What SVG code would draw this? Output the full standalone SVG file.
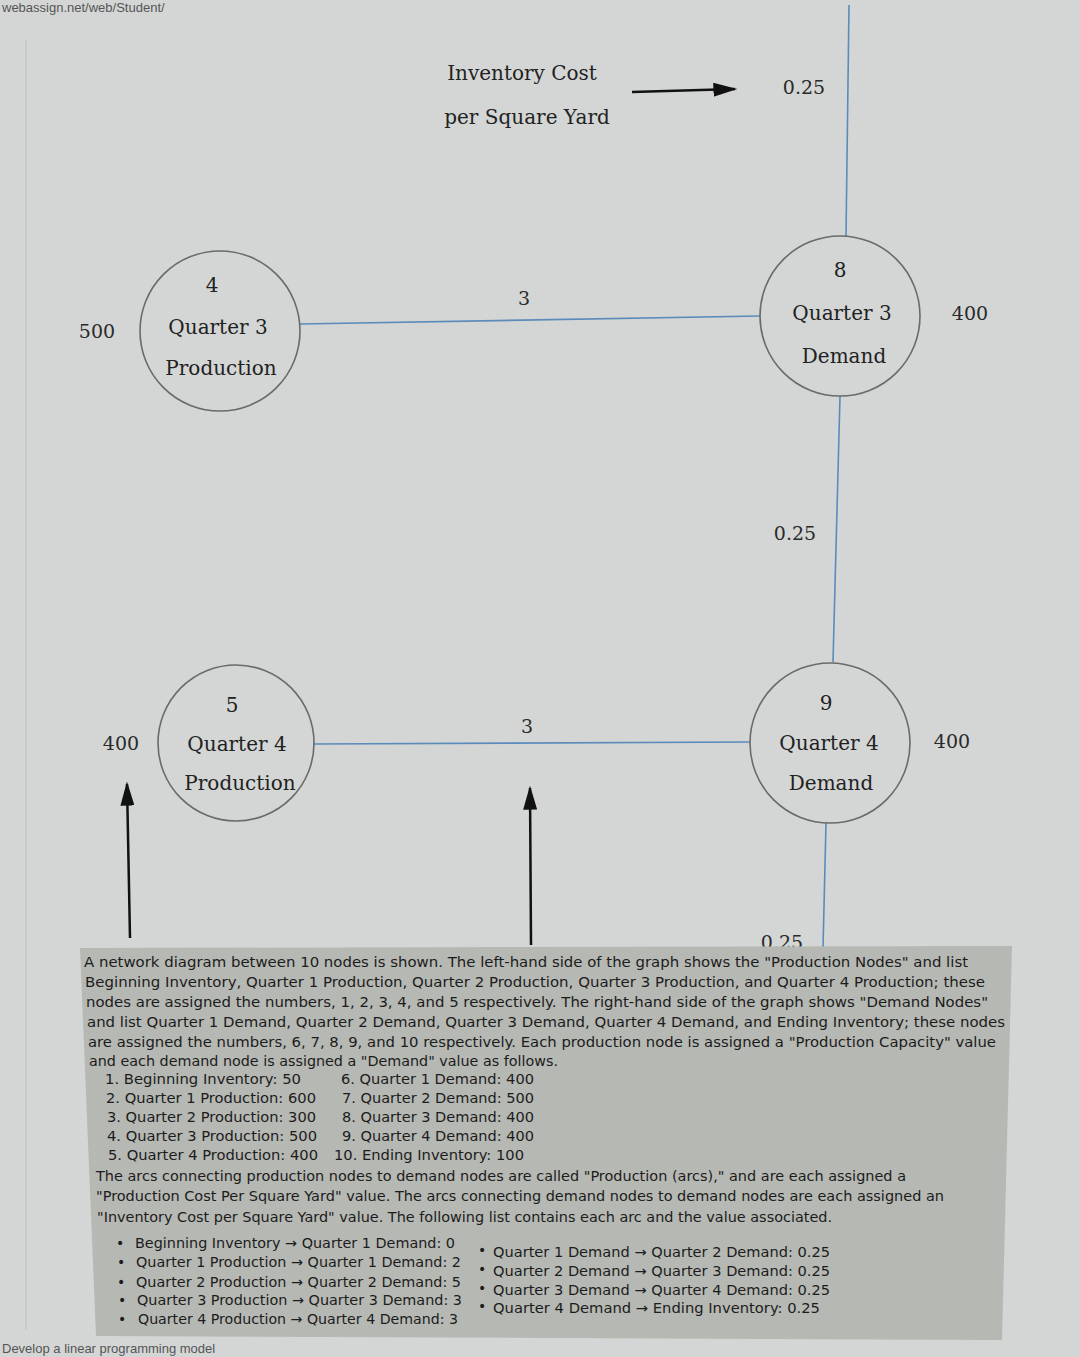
<svg xmlns="http://www.w3.org/2000/svg" width="1080" height="1357" viewBox="0 0 1080 1357">
<style>
.bg{fill:#d4d6d5}
.node{fill:none;stroke:#6a6a6a;stroke-width:1.6}
.nt{font-family:"DejaVu Serif","Liberation Serif",serif;font-size:20px;fill:#222;text-anchor:middle}
.lbl{font-family:"DejaVu Serif","Liberation Serif",serif;font-size:19px;fill:#2a2a2a;text-anchor:middle}
.arc{stroke:#5b8bbb;stroke-width:1.6;fill:none}
.blk{stroke:#111;stroke-width:2.5;fill:none}
.box{fill:#b6b8b3}
.bt{font-family:"DejaVu Sans","Liberation Sans",sans-serif;font-size:14px;fill:#1c1c1c}
.ui{font-family:"Liberation Sans",sans-serif;font-size:13px;fill:#555}
</style>
<defs>
<marker id="ah" viewBox="0 0 10 10" refX="9" refY="5" markerWidth="24" markerHeight="14" orient="auto" markerUnits="userSpaceOnUse" preserveAspectRatio="none">
<path d="M0,0 L10,5 L0,10 z" fill="#111"/>
</marker>
</defs>
<rect class="bg" x="0" y="0" width="1080" height="1357"/>
<text class="ui" x="2" y="12">webassign.net/web/Student/</text>
<line x1="26" y1="40" x2="26" y2="1330" stroke="#bfc1c0" stroke-width="1"/>

<g id="connectors">
<line class="arc" x1="849" y1="5" x2="846" y2="236"/>
<line class="arc" x1="300" y1="324" x2="760" y2="316"/>
<line class="arc" x1="840" y1="396" x2="833" y2="662"/>
<line class="arc" x1="313" y1="744" x2="750" y2="742"/>
<line class="arc" x1="826" y1="823" x2="823" y2="948"/>
<line class="blk" x1="632" y1="92" x2="735" y2="89" marker-end="url(#ah)"/>
<line class="blk" x1="130" y1="938" x2="127" y2="784" marker-end="url(#ah)"/>
<line class="blk" x1="531" y1="945" x2="530" y2="788" marker-end="url(#ah)"/>
<text class="lbl" x="524" y="305">3</text>
<text class="lbl" x="527" y="733">3</text>
<text class="lbl" x="795" y="540">0.25</text>
<text class="lbl" x="782" y="949">0.25</text>
</g>

<g id="legend">
<text class="nt" x="522" y="80">Inventory Cost</text>
<text class="nt" x="527" y="124">per Square Yard</text>
<text class="lbl" x="804" y="94">0.25</text>
</g>

<g id="node4">
<circle class="node" cx="220" cy="331" r="80"/>
<text class="nt" x="212" y="292">4</text>
<text class="nt" x="218" y="334">Quarter 3</text>
<text class="nt" x="221" y="375">Production</text>
<text class="lbl" x="97" y="338">500</text>
</g>

<g id="node8">
<circle class="node" cx="840" cy="316" r="80"/>
<text class="nt" x="840" y="277">8</text>
<text class="nt" x="842" y="320">Quarter 3</text>
<text class="nt" x="844" y="363">Demand</text>
<text class="lbl" x="970" y="320">400</text>
</g>

<g id="node5">
<circle class="node" cx="236" cy="743" r="78"/>
<text class="nt" x="232" y="712">5</text>
<text class="nt" x="237" y="751">Quarter 4</text>
<text class="nt" x="240" y="790">Production</text>
<text class="lbl" x="121" y="750">400</text>
</g>

<g id="node9">
<circle class="node" cx="830" cy="743" r="80"/>
<text class="nt" x="826" y="710">9</text>
<text class="nt" x="829" y="750">Quarter 4</text>
<text class="nt" x="831" y="790">Demand</text>
<text class="lbl" x="952" y="748">400</text>
</g>

<g id="description">
<polygon class="box" points="80,948 1012,946 1002,1340 96,1336"/>
<text class="bt" x="84" y="967" textLength="884" lengthAdjust="spacingAndGlyphs">A network diagram between 10 nodes is shown. The left-hand side of the graph shows the "Production Nodes" and list</text>
<text class="bt" x="85" y="987" textLength="900" lengthAdjust="spacingAndGlyphs">Beginning Inventory, Quarter 1 Production, Quarter 2 Production, Quarter 3 Production, and Quarter 4 Production; these</text>
<text class="bt" x="86" y="1007" textLength="902" lengthAdjust="spacingAndGlyphs">nodes are assigned the numbers, 1, 2, 3, 4, and 5 respectively. The right-hand side of the graph shows "Demand Nodes"</text>
<text class="bt" x="87" y="1027" textLength="918" lengthAdjust="spacingAndGlyphs">and list Quarter 1 Demand, Quarter 2 Demand, Quarter 3 Demand, Quarter 4 Demand, and Ending Inventory; these nodes</text>
<text class="bt" x="88" y="1047" textLength="908" lengthAdjust="spacingAndGlyphs">are assigned the numbers, 6, 7, 8, 9, and 10 respectively. Each production node is assigned a "Production Capacity" value</text>
<text class="bt" x="89" y="1066" textLength="469" lengthAdjust="spacingAndGlyphs">and each demand node is assigned a "Demand" value as follows.</text>
<text class="bt" x="105" y="1084" textLength="196" lengthAdjust="spacingAndGlyphs">1. Beginning Inventory: 50</text>
<text class="bt" x="341" y="1084" textLength="193" lengthAdjust="spacingAndGlyphs">6. Quarter 1 Demand: 400</text>
<text class="bt" x="106" y="1103" textLength="210" lengthAdjust="spacingAndGlyphs">2. Quarter 1 Production: 600</text>
<text class="bt" x="342" y="1103" textLength="192" lengthAdjust="spacingAndGlyphs">7. Quarter 2 Demand: 500</text>
<text class="bt" x="107" y="1122" textLength="209" lengthAdjust="spacingAndGlyphs">3. Quarter 2 Production: 300</text>
<text class="bt" x="342" y="1122" textLength="192" lengthAdjust="spacingAndGlyphs">8. Quarter 3 Demand: 400</text>
<text class="bt" x="107" y="1141" textLength="210" lengthAdjust="spacingAndGlyphs">4. Quarter 3 Production: 500</text>
<text class="bt" x="342" y="1141" textLength="192" lengthAdjust="spacingAndGlyphs">9. Quarter 4 Demand: 400</text>
<text class="bt" x="108" y="1160" textLength="210" lengthAdjust="spacingAndGlyphs">5. Quarter 4 Production: 400</text>
<text class="bt" x="334" y="1160" textLength="190" lengthAdjust="spacingAndGlyphs">10. Ending Inventory: 100</text>
<text class="bt" x="96" y="1181" textLength="810" lengthAdjust="spacingAndGlyphs">The arcs connecting production nodes to demand nodes are called "Production (arcs)," and are each assigned a</text>
<text class="bt" x="96" y="1201" textLength="848" lengthAdjust="spacingAndGlyphs">"Production Cost Per Square Yard" value. The arcs connecting demand nodes to demand nodes are each assigned an</text>
<text class="bt" x="97" y="1222" textLength="735" lengthAdjust="spacingAndGlyphs">"Inventory Cost per Square Yard" value. The following list contains each arc and the value associated.</text>
<g class="bt">
<text x="116" y="1248">•</text><text x="135" y="1248" textLength="320" lengthAdjust="spacingAndGlyphs">Beginning Inventory → Quarter 1 Demand: 0</text>
<text x="117" y="1267">•</text><text x="136" y="1267" textLength="325" lengthAdjust="spacingAndGlyphs">Quarter 1 Production → Quarter 1 Demand: 2</text>
<text x="117" y="1287">•</text><text x="136" y="1287" textLength="325" lengthAdjust="spacingAndGlyphs">Quarter 2 Production → Quarter 2 Demand: 5</text>
<text x="118" y="1305">•</text><text x="137" y="1305" textLength="325" lengthAdjust="spacingAndGlyphs">Quarter 3 Production → Quarter 3 Demand: 3</text>
<text x="118" y="1324">•</text><text x="138" y="1324" textLength="320" lengthAdjust="spacingAndGlyphs">Quarter 4 Production → Quarter 4 Demand: 3</text>
<text x="478" y="1255">•</text><text x="493" y="1257" textLength="337" lengthAdjust="spacingAndGlyphs">Quarter 1 Demand → Quarter 2 Demand: 0.25</text>
<text x="478" y="1274">•</text><text x="493" y="1276" textLength="337" lengthAdjust="spacingAndGlyphs">Quarter 2 Demand → Quarter 3 Demand: 0.25</text>
<text x="478" y="1293">•</text><text x="493" y="1295" textLength="337" lengthAdjust="spacingAndGlyphs">Quarter 3 Demand → Quarter 4 Demand: 0.25</text>
<text x="478" y="1311">•</text><text x="493" y="1313" textLength="327" lengthAdjust="spacingAndGlyphs">Quarter 4 Demand → Ending Inventory: 0.25</text>
</g>
</g>
<text class="ui" x="2" y="1353" fill="#333">Develop a linear programming model</text>
</svg>
